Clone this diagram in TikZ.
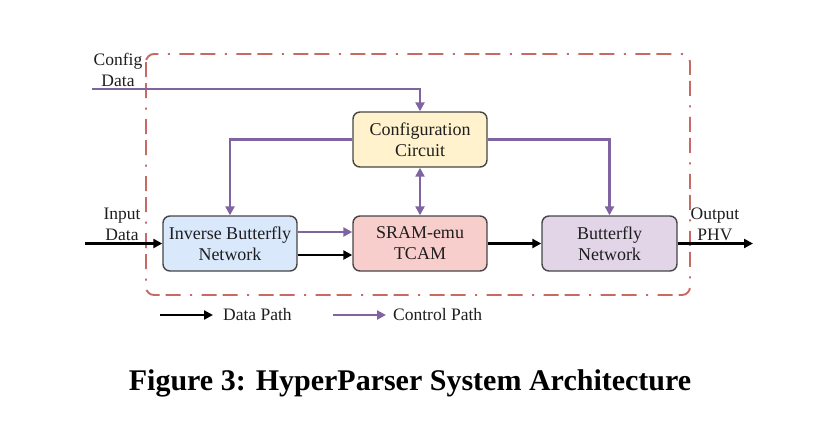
\documentclass[tikz,border=0pt]{standalone}
\usepackage{fontspec}
\setmainfont{Liberation Serif}
\usetikzlibrary{arrows.meta,calc}
\definecolor{ctrl}{RGB}{128,100,162}
\definecolor{frame}{RGB}{200,105,100}
\definecolor{cfgfill}{RGB}{255,242,204}
\definecolor{ibnfill}{RGB}{218,232,252}
\definecolor{sramfill}{RGB}{248,206,204}
\definecolor{bnfill}{RGB}{225,213,231}
\definecolor{edge}{RGB}{70,70,70}
\definecolor{txt}{RGB}{30,30,30}
\tikzset{
  block/.style={draw=edge, line width=1.4pt, rounded corners=7pt, minimum width=134pt, minimum height=55pt, align=center, inner sep=0pt, font=\fontsize{18}{21}\selectfont, text=txt},
  lbl/.style={align=center, font=\fontsize{17.5}{21}\selectfont, text=txt, inner sep=0pt},
  tip/.style={-{Triangle[length=9pt,width=9pt]}},
  datapath/.style={line width=2.7pt, black, tip},
  ctrlpath/.style={line width=2.5pt, ctrl, tip},
  boundary/.style={draw=frame, line width=1.9pt, rounded corners=8pt, dash pattern=on 15pt off 6pt on 15pt off 9.5pt on 2pt off 9.5pt}
}
\begin{document}
\begin{tikzpicture}[x=1pt,y=-1pt]
\useasboundingbox[fill=white] (0,0) rectangle (831,424);
% frame
\draw[boundary] (146,54) rectangle (690,295);
% blocks
\node[block, fill=cfgfill] (cfg) at (420,139.5) {Configuration\\Circuit};
\node[block, fill=ibnfill] (ibn) at (230,243.5) {Inverse Butterfly\\Network};
\node[block, fill=sramfill] (sram) at (420,243.5) {SRAM-emu\\TCAM};
\node[block, fill=bnfill, minimum width=135pt] (bn) at (609.5,243.5) {Butterfly\\Network};
% labels
\node[lbl] (cfglbl) at (118,70) {Config\\Data};
\node[lbl] (inlbl) at (122,224) {Input\\Data};
\node[lbl] (outlbl) at (715,224) {Output\\PHV};
% free ends
\coordinate (cdin) at (92,89);
\coordinate (din) at (85,243.5);
\coordinate (dout) at (753,243.5);
% control paths
\draw[ctrlpath] (cdin) -| (cfg.north);
\draw[ctrlpath] (cfg.west) -| (ibn.north);
\draw[ctrlpath] (cfg.east) -| (bn.north);
\draw[ctrlpath, {Triangle[length=9pt,width=9pt]}-{Triangle[length=9pt,width=9pt]}] (cfg.south) -- (sram.north);
\draw[ctrlpath] ([yshift=11.5pt]ibn.east) -- ([yshift=11.5pt]sram.west);
% data paths
\draw[datapath] ([yshift=-11.5pt]ibn.east) -- ([yshift=-11.5pt]sram.west);
\draw[datapath] (sram.east) -- (bn.west);
\draw[datapath] (din) -- (ibn.west);
\draw[datapath] (bn.east) -- (dout);
% legend
\coordinate (l1a) at (160,315);
\coordinate (l1b) at (213,315);
\coordinate (l2a) at (333,315);
\coordinate (l2b) at (386,315);
\draw[datapath] (l1a) -- (l1b);
\node[lbl, anchor=west] (l1t) at (223,315) {Data Path};
\draw[ctrlpath] (l2a) -- (l2b);
\node[lbl, anchor=west] (l2t) at (393,315) {Control Path};
% caption
\node[font=\fontsize{30}{34}\selectfont\bfseries, text=black, inner sep=0pt] (cap) at (410,383) {Figure 3: HyperParser System Architecture};
\end{tikzpicture}
\end{document}
